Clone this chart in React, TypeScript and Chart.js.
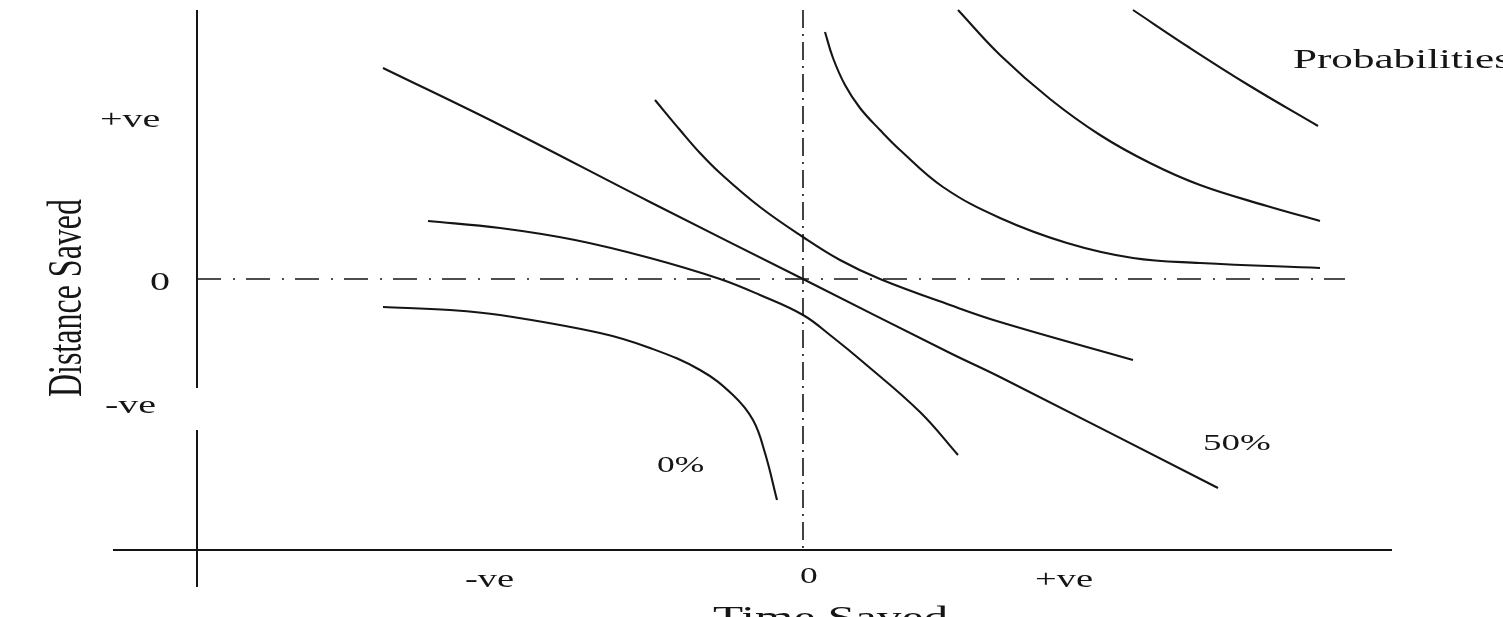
import React, { useEffect, useRef } from "react";
import { Chart, registerables } from "chart.js";

Chart.register(...registerables);

// Units: x = Time Saved, y = Distance Saved (origin at the dash-dot crossing)
type P = { x: number; y: number };

const curveTopLeft: P[] = [
  { x: -4.2, y: 2.11 }, { x: -3.03, y: 1.54 }, { x: -1.53, y: 0.77 },
  { x: 0, y: 0 }, { x: 1.47, y: -0.74 }, { x: 1.97, y: -0.98 }, { x: 4.15, y: -2.09 },
];
const curveUpperMid: P[] = [
  { x: -1.48, y: 1.79 }, { x: -1.23, y: 1.49 }, { x: -1.03, y: 1.26 }, { x: -0.83, y: 1.06 },
  { x: -0.43, y: 0.72 }, { x: 0, y: 0.42 }, { x: 0.37, y: 0.19 }, { x: 0.77, y: 0 },
  { x: 1.47, y: -0.26 }, { x: 1.97, y: -0.43 }, { x: 3.3, y: -0.81 },
];
const curveLowerMid: P[] = [
  { x: -3.75, y: 0.58 }, { x: -3.03, y: 0.51 }, { x: -2.28, y: 0.39 }, { x: -1.53, y: 0.21 },
  { x: -0.83, y: 0 }, { x: -0.43, y: -0.16 }, { x: 0, y: -0.36 }, { x: 0.27, y: -0.56 },
  { x: 0.6, y: -0.83 }, { x: 1.17, y: -1.33 }, { x: 1.55, y: -1.76 },
];
const curveZero: P[] = [
  { x: -4.2, y: -0.28 }, { x: -3.53, y: -0.31 }, { x: -3.03, y: -0.36 }, { x: -2.03, y: -0.54 },
  { x: -1.53, y: -0.69 }, { x: -1.03, y: -0.91 }, { x: -0.7, y: -1.16 }, { x: -0.5, y: -1.41 },
  { x: -0.38, y: -1.74 }, { x: -0.26, y: -2.21 },
];
const curveRightLow: P[] = [
  { x: 0.22, y: 2.47 }, { x: 0.3, y: 2.21 }, { x: 0.42, y: 1.94 }, { x: 0.57, y: 1.71 },
  { x: 0.77, y: 1.49 }, { x: 0.97, y: 1.29 }, { x: 1.4, y: 0.92 }, { x: 1.97, y: 0.61 },
  { x: 2.64, y: 0.36 }, { x: 3.3, y: 0.21 }, { x: 3.97, y: 0.16 }, { x: 5.17, y: 0.11 },
];
const curveRightMid: P[] = [
  { x: 1.55, y: 2.69 }, { x: 1.97, y: 2.24 }, { x: 2.47, y: 1.8 }, { x: 2.97, y: 1.44 },
  { x: 3.47, y: 1.16 }, { x: 3.97, y: 0.94 }, { x: 4.64, y: 0.73 }, { x: 5.17, y: 0.58 },
];
const curveRightTop: P[] = [
  { x: 3.3, y: 2.69 }, { x: 3.87, y: 2.31 }, { x: 4.47, y: 1.93 }, { x: 5.15, y: 1.53 },
];

// axis frame (in the same units)
const yAxisUpper: P[] = [{ x: -6.06, y: 2.69 }, { x: -6.06, y: -1.09 }];
const yAxisLower: P[] = [{ x: -6.06, y: -1.51 }, { x: -6.06, y: -3.08 }];
const xAxisLine: P[] = [{ x: -6.9, y: -2.71 }, { x: 5.89, y: -2.71 }];
const zeroDistanceLine: P[] = [{ x: -6.06, y: 0 }, { x: 5.42, y: 0 }];
const zeroTimeLine: P[] = [{ x: 0, y: 2.69 }, { x: 0, y: -2.71 }];

const X_MIN = -8.03;
const X_MAX = 7.0;
const Y_MIN = -3.38;
const Y_MAX = 2.79;

// text labels: text, anchor (units), font size
const yTickLabels = ["+ve", "0", "-ve"];
const xTickLabels = ["-ve", "0", "+ve"];
const labels = [
  { t: yTickLabels[0], x: -7.03, y: 1.52, s: 26 },
  { t: yTickLabels[1], x: -6.53, y: -0.11, s: 26 },
  { t: yTickLabels[2], x: -6.98, y: -1.34, s: 26 },
  { t: xTickLabels[0], x: -3.38, y: -3.08, s: 25 },
  { t: xTickLabels[1], x: -0.03, y: -3.04, s: 23 },
  { t: xTickLabels[2], x: 2.32, y: -3.08, s: 25 },
  { t: "0%", x: -1.46, y: -1.93, s: 23 },
  { t: "50%", x: 4.0, y: -1.71, s: 24 },
  { t: "Probabilities", x: 4.9, y: 2.11, s: 28 },
  { t: "Time Saved", x: -0.9, y: -3.49, s: 32 },
];
const yTitle = { t: "Distance Saved", x: -7.22, y: -0.19, s: 32 };

const STRETCH = 1.54;
const INK = "#151515";

const textPlugin = {
  id: "schematicText",
  afterDraw(chart: any) {
    const ctx = chart.ctx as CanvasRenderingContext2D;
    const xs = chart.scales.x;
    const ys = chart.scales.y;
    ctx.save();
    ctx.fillStyle = INK;
    ctx.textBaseline = "alphabetic";
    for (const l of labels) {
      const px = xs.getPixelForValue(l.x);
      const py = ys.getPixelForValue(l.y);
      ctx.save();
      ctx.translate(px, py);
      ctx.scale(STRETCH, 1);
      ctx.font = `${l.s}px "Liberation Serif", "Times New Roman", serif`;
      ctx.textAlign = "left";
      ctx.fillText(l.t, 0, 0);
      ctx.restore();
    }
    {
      const px = xs.getPixelForValue(yTitle.x);
      const py = ys.getPixelForValue(yTitle.y);
      ctx.save();
      ctx.translate(px, py);
      ctx.scale(STRETCH, 1);
      ctx.rotate(-Math.PI / 2);
      ctx.font = `${yTitle.s}px "Liberation Serif", "Times New Roman", serif`;
      ctx.textAlign = "center";
      ctx.fillText(yTitle.t, 0, 0);
      ctx.restore();
    }
    ctx.restore();
  },
};

function curve(data: P[]) {
  return {
    data,
    showLine: true,
    borderColor: INK,
    borderWidth: 2.1,
    pointRadius: 0,
    tension: 0.4,
    fill: false,
  };
}
function frame(data: P[], width: number, dash: number[] = []) {
  return {
    data,
    showLine: true,
    borderColor: INK,
    borderWidth: width,
    borderDash: dash,
    pointRadius: 0,
    tension: 0,
    fill: false,
  };
}

export default function App() {
  const ref = useRef<HTMLCanvasElement | null>(null);
  useEffect(() => {
    if (!ref.current) return;
    const chart = new Chart(ref.current, {
      type: "scatter",
      data: {
        datasets: [
          frame(yAxisUpper, 2),
          frame(yAxisLower, 2),
          frame(xAxisLine, 1.8),
          frame(zeroDistanceLine, 1.6, [24, 12, 2, 11]),
          frame(zeroTimeLine, 1.6, [18, 6, 2, 6]),
          curve(curveTopLeft),
          curve(curveUpperMid),
          curve(curveLowerMid),
          curve(curveZero),
          curve(curveRightLow),
          curve(curveRightMid),
          curve(curveRightTop),
        ] as any,
      },
      options: {
        animation: false,
        responsive: true,
        maintainAspectRatio: false,
        layout: { padding: 0 },
        plugins: { legend: { display: false }, tooltip: { enabled: false } },
        events: [],
        scales: {
          x: { type: "linear", min: X_MIN, max: X_MAX, display: false },
          y: { type: "linear", min: Y_MIN, max: Y_MAX, display: false },
        },
      },
      plugins: [textPlugin],
    });
    return () => chart.destroy();
  }, []);
  return (
    <div style={{ position: "fixed", left: 0, top: 0, width: 1503, height: 617, background: "#fff" }}>
      <canvas ref={ref} />
    </div>
  );
}
